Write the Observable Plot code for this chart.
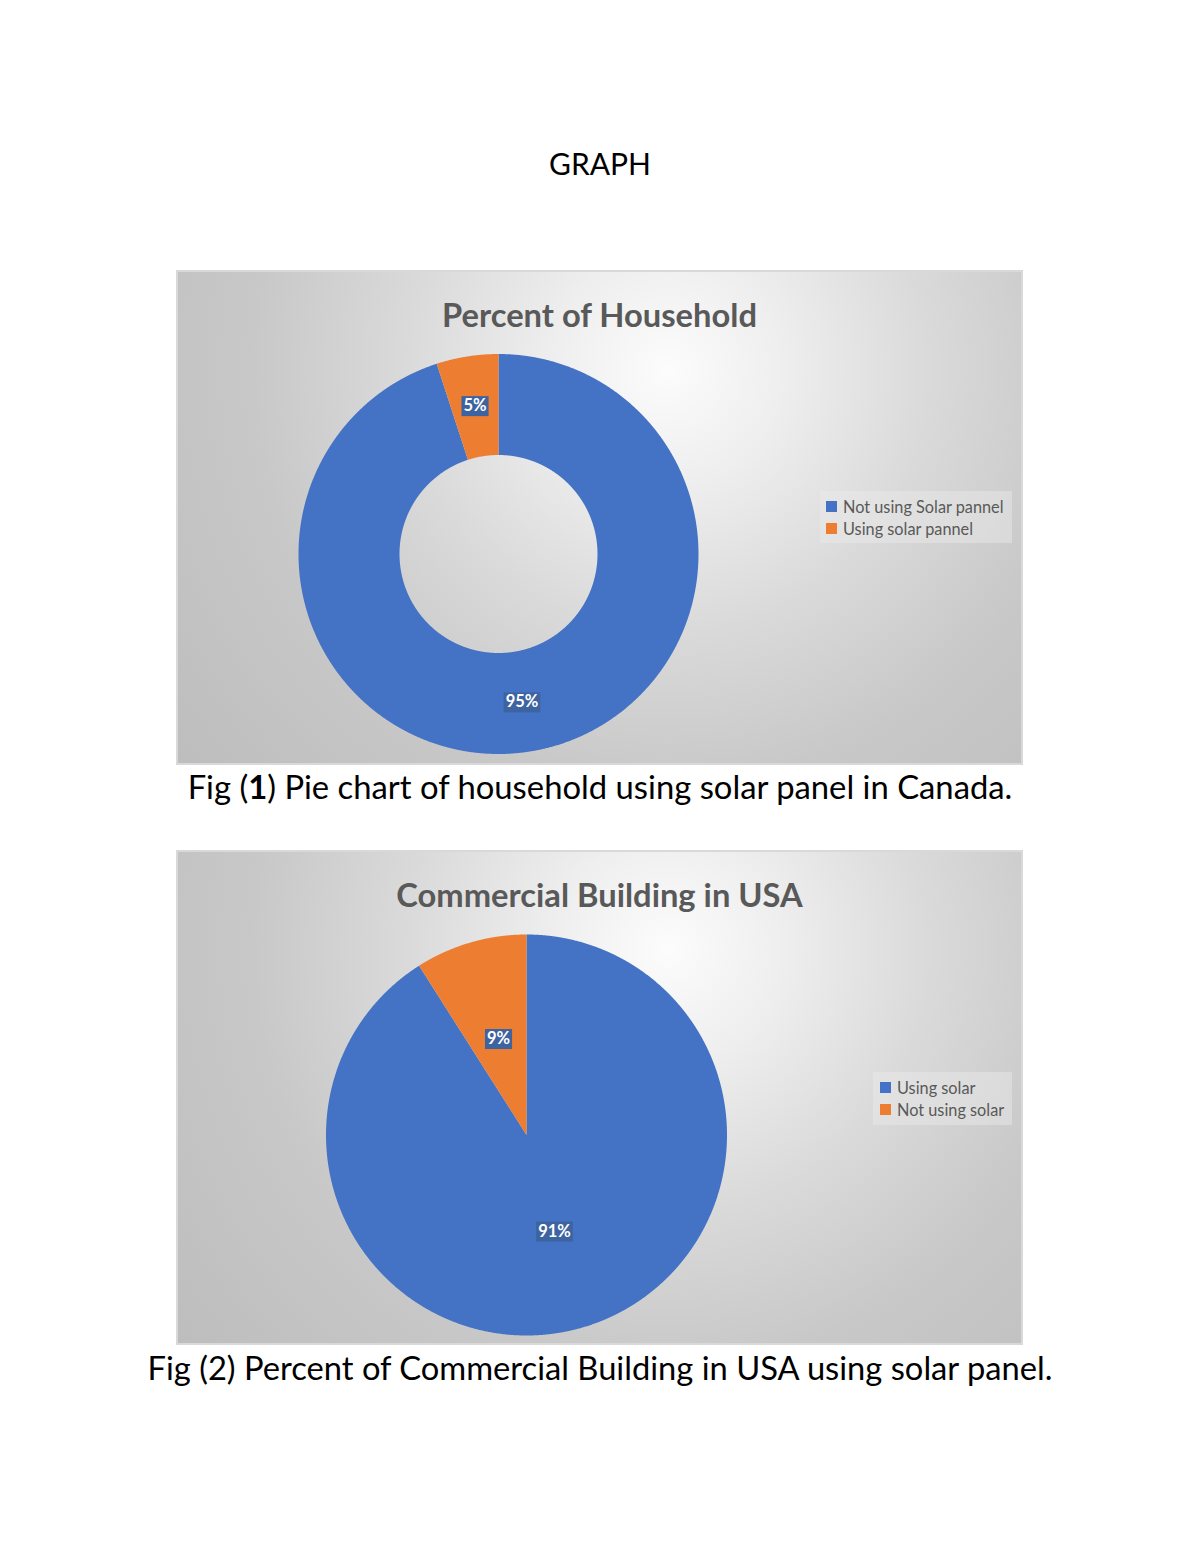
<!DOCTYPE html>
<html><head><meta charset="utf-8">
<script src="https://cdn.jsdelivr.net/npm/d3@7"></script>
<script src="https://cdn.jsdelivr.net/npm/@observablehq/plot@0.6"></script>
<style>
body{margin:0;background:#fff;font-family:Lato,"Open Sans",sans-serif;}
#page{position:relative;width:1200px;height:1553px;overflow:hidden;}
.t{position:absolute;white-space:nowrap;line-height:1;}
.center{left:0;width:1200px;text-align:center;}
.chartbox{position:absolute;left:176px;width:847px;height:495px;box-shadow:inset 0 0 0 2px #d9d9d9;
 background:radial-gradient(circle 650px at 58% 20%, #fcfcfc 0%, #eeeeee 18%, #dadada 40%, #c8c8c8 64%, #bcbcbc 100%);}
.chartbox svg{position:absolute;left:0;top:0;}
.ctitle{left:0;width:847px;text-align:center;font-weight:bold;color:#595959;font-size:32.7px;}
.legend{position:absolute;background:rgba(235,235,235,0.45);color:#595959;font-size:16.3px;box-sizing:border-box;padding-top:4px;}
.legend .row{display:flex;align-items:center;height:22px;}
.legend .sw{width:11px;height:11px;margin-right:6px;flex:none;}
</style>
</head><body>
<div id="page"></div>
<script>
// ---- data ----
const householdCategories = ["Not using Solar pannel", "Using solar pannel"];
const householdValues = [95, 5];
const householdLabels = ["95%", "5%"];
const commercialCategories = ["Using solar", "Not using solar"];
const commercialValues = [91, 9];
const commercialLabels = ["91%", "9%"];
const sliceColors = ["#4472c4", "#ed7d31"];
const pageTitle = "GRAPH";
const chartTitles = ["Percent of Household", "Commercial Building in USA"];

const page = document.getElementById("page");

function addText(cls, html, top, style) {
  const d = document.createElement("div");
  d.className = "t " + cls;
  d.innerHTML = html;
  d.style.top = top + "px";
  if (style) Object.assign(d.style, style);
  page.appendChild(d);
  return d;
}

addText("center", pageTitle, 148.4, {fontSize: "30px", color: "#000"});

function buildChart(cfg) {
  const box = document.createElement("div");
  box.className = "chartbox";
  box.style.top = cfg.top + "px";
  page.appendChild(box);

  const arcs = d3.pie().sort(null).value(d => d)(cfg.values);
  const pts = [];
  arcs.forEach((a, i) => {
    const n = Math.max(8, Math.ceil((a.endAngle - a.startAngle) / 0.004));
    for (let k = 0; k <= n; k++) {
      const t = a.startAngle + (a.endAngle - a.startAngle) * k / n;
      pts.push({cat: cfg.cats[i], x: Math.sin(t), y: Math.cos(t)});
    }
    if (cfg.inner > 0) {
      for (let k = n; k >= 0; k--) {
        const t = a.startAngle + (a.endAngle - a.startAngle) * k / n;
        pts.push({cat: cfg.cats[i], x: cfg.inner * Math.sin(t), y: cfg.inner * Math.cos(t)});
      }
    } else {
      pts.push({cat: cfg.cats[i], x: 0, y: 0});
    }
  });
  const labelData = arcs.map((a, i) => {
    const m = (a.startAngle + a.endAngle) / 2;
    return {x: cfg.labelR * Math.sin(m), y: cfg.labelR * Math.cos(m), label: cfg.labels[i]};
  });

  const svg = Plot.plot({
    width: 847, height: 495, margin: 0,
    style: {background: "transparent", overflow: "visible"},
    x: {domain: [-1, 1], range: [cfg.cx - cfg.r, cfg.cx + cfg.r], axis: null},
    y: {domain: [-1, 1], range: [cfg.cy + cfg.r, cfg.cy - cfg.r], axis: null},
    color: {domain: cfg.cats, range: sliceColors},
    marks: [
      Plot.line(pts, {x: "x", y: "y", z: "cat", fill: "cat", stroke: null}),
      Plot.text(labelData, {x: "x", y: "y", text: "label", fill: "white", fontWeight: "bold",
        fontSize: 16.5, fontFamily: "Lato, sans-serif", className: "dlabel"})
    ]
  });
  box.appendChild(svg);
  // label background boxes
  svg.querySelectorAll(".dlabel text").forEach(t => {
    const b = t.getBBox();
    const r = document.createElementNS("http://www.w3.org/2000/svg", "rect");
    r.setAttribute("x", b.x - 2); r.setAttribute("y", b.y + 1);
    r.setAttribute("width", b.width + 4); r.setAttribute("height", b.height);
    r.setAttribute("fill", "#3d63a0");
    if (t.getAttribute("transform")) r.setAttribute("transform", t.getAttribute("transform"));
    t.parentNode.insertBefore(r, t);
  });

  const title = document.createElement("div");
  title.className = "t ctitle";
  title.textContent = cfg.title;
  title.style.top = cfg.titleTop + "px";
  box.appendChild(title);

  const lg = document.createElement("div");
  lg.className = "legend";
  Object.assign(lg.style, {left: cfg.legend[0] + "px", top: cfg.legend[1] + "px", width: cfg.legend[2] + "px", height: cfg.legend[3] + "px", paddingLeft: cfg.legend[4] + "px"});
  cfg.cats.forEach((c, i) => {
    const row = document.createElement("div");
    row.className = "row";
    row.innerHTML = `<span class="sw" style="background:${sliceColors[i]}"></span><span>${c}</span>`;
    lg.appendChild(row);
  });
  box.appendChild(lg);
}

buildChart({top: 270, cats: householdCategories, values: householdValues, labels: householdLabels,
  cx: 322, cy: 283.5, r: 200, inner: 0.495, labelR: 0.75, title: chartTitles[0], titleTop: 29,
  legend: [644, 221, 192, 52, 6]});
addText("center", "Fig (<b>1</b>) Pie chart of household using solar panel in Canada.", 770.7, {fontSize: "32.8px", color: "#000"});

buildChart({top: 850, cats: commercialCategories, values: commercialValues, labels: commercialLabels,
  cx: 350, cy: 284.5, r: 200.5, inner: 0, labelR: 0.5, title: chartTitles[1], titleTop: 29,
  legend: [697, 222, 139, 53, 7]});
addText("center", "Fig (2) Percent of Commercial Building in USA using solar panel.", 1351.5, {fontSize: "32.7px", color: "#000"});
</script>
</body></html>
